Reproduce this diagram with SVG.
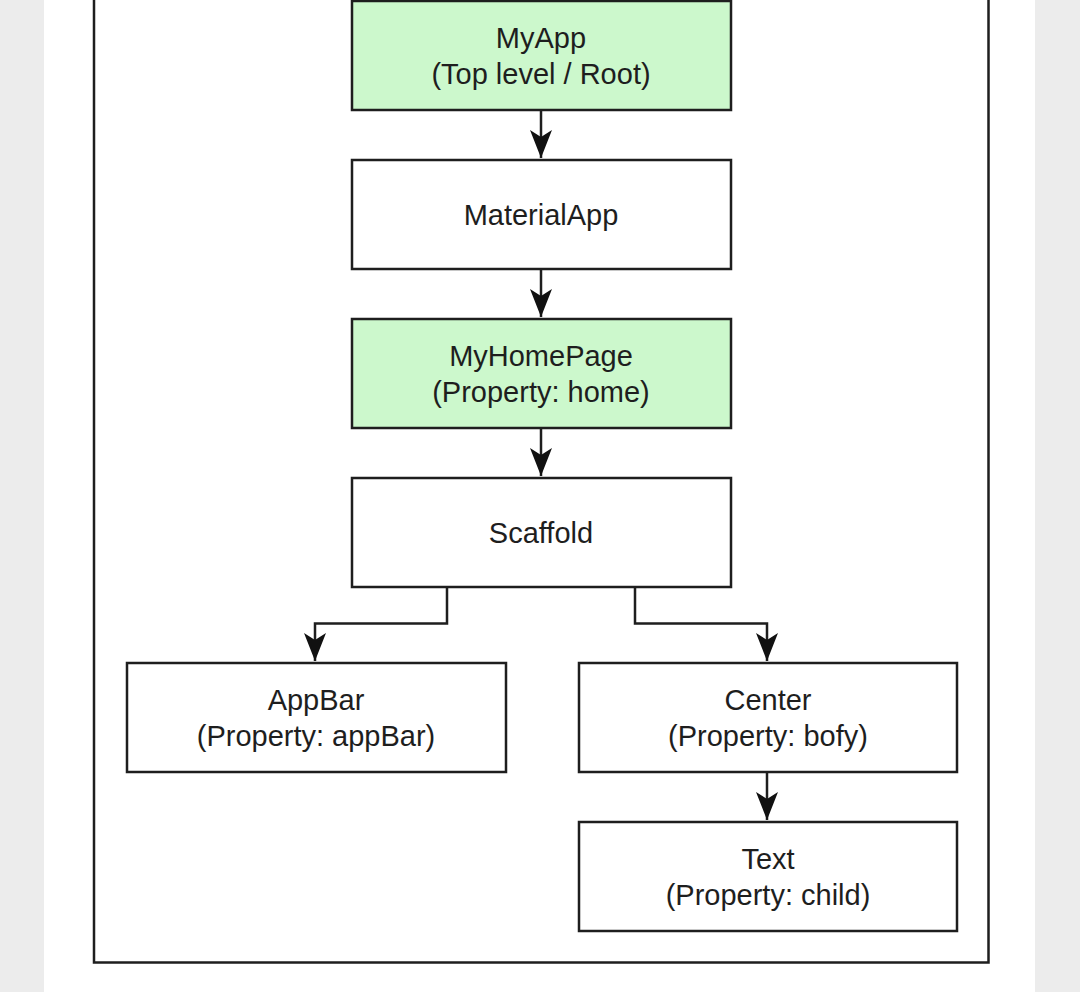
<svg xmlns="http://www.w3.org/2000/svg" width="1080" height="992" viewBox="0 0 1080 992">
<style>
.box{stroke:#1e1e1e;stroke-width:2.5}
.w{fill:#ffffff}
.g{fill:#ccf8cc}
.t{font-family:"Liberation Sans",Arial,sans-serif;font-size:29px;fill:#1e1e1e;text-anchor:middle}
.c{fill:none;stroke:#1e1e1e;stroke-width:2.5}
</style>
<defs>
<marker id="arr" markerUnits="userSpaceOnUse" viewBox="-30 -13 32 26" refX="0" refY="0" markerWidth="32" markerHeight="26" orient="auto">
<path d="M0,0 L-28,-11 L-21,0 L-28,11 Z" fill="#111"/>
</marker>
</defs>
<rect x="0" y="0" width="1080" height="992" fill="#ececec"/>
<rect x="44" y="0" width="991" height="992" fill="#ffffff"/>
<rect x="94" y="-10" width="894.5" height="972.5" fill="none" stroke="#1e1e1e" stroke-width="2.5"/>
<g id="connectors">
<path class="c" d="M541,110 V158" marker-end="url(#arr)"/>
<path class="c" d="M541,269 V317" marker-end="url(#arr)"/>
<path class="c" d="M541,428 V476" marker-end="url(#arr)"/>
<path class="c" d="M447,587 V623.5 H315 V661" marker-end="url(#arr)"/>
<path class="c" d="M635,587 V623.5 H767 V661" marker-end="url(#arr)"/>
<path class="c" d="M767,772 V820" marker-end="url(#arr)"/>
</g>
<g id="myapp">
<rect class="box g" x="352" y="1" width="379" height="109"/>
<text class="t" x="541" y="48">MyApp</text>
<text class="t" x="541" y="84">(Top level / Root)</text>
</g>
<g id="materialapp">
<rect class="box w" x="352" y="160" width="379" height="109"/>
<text class="t" x="541" y="225">MaterialApp</text>
</g>
<g id="myhomepage">
<rect class="box g" x="352" y="319" width="379" height="109"/>
<text class="t" x="541" y="366">MyHomePage</text>
<text class="t" x="541" y="402">(Property: home)</text>
</g>
<g id="scaffold">
<rect class="box w" x="352" y="478" width="379" height="109"/>
<text class="t" x="541" y="543">Scaffold</text>
</g>
<g id="appbar">
<rect class="box w" x="127" y="663" width="379" height="109"/>
<text class="t" x="316" y="710">AppBar</text>
<text class="t" x="316" y="746">(Property: appBar)</text>
</g>
<g id="center">
<rect class="box w" x="579" y="663" width="378" height="109"/>
<text class="t" x="768" y="710">Center</text>
<text class="t" x="768" y="746">(Property: bofy)</text>
</g>
<g id="text">
<rect class="box w" x="579" y="822" width="378" height="109"/>
<text class="t" x="768" y="869">Text</text>
<text class="t" x="768" y="905">(Property: child)</text>
</g>
</svg>
